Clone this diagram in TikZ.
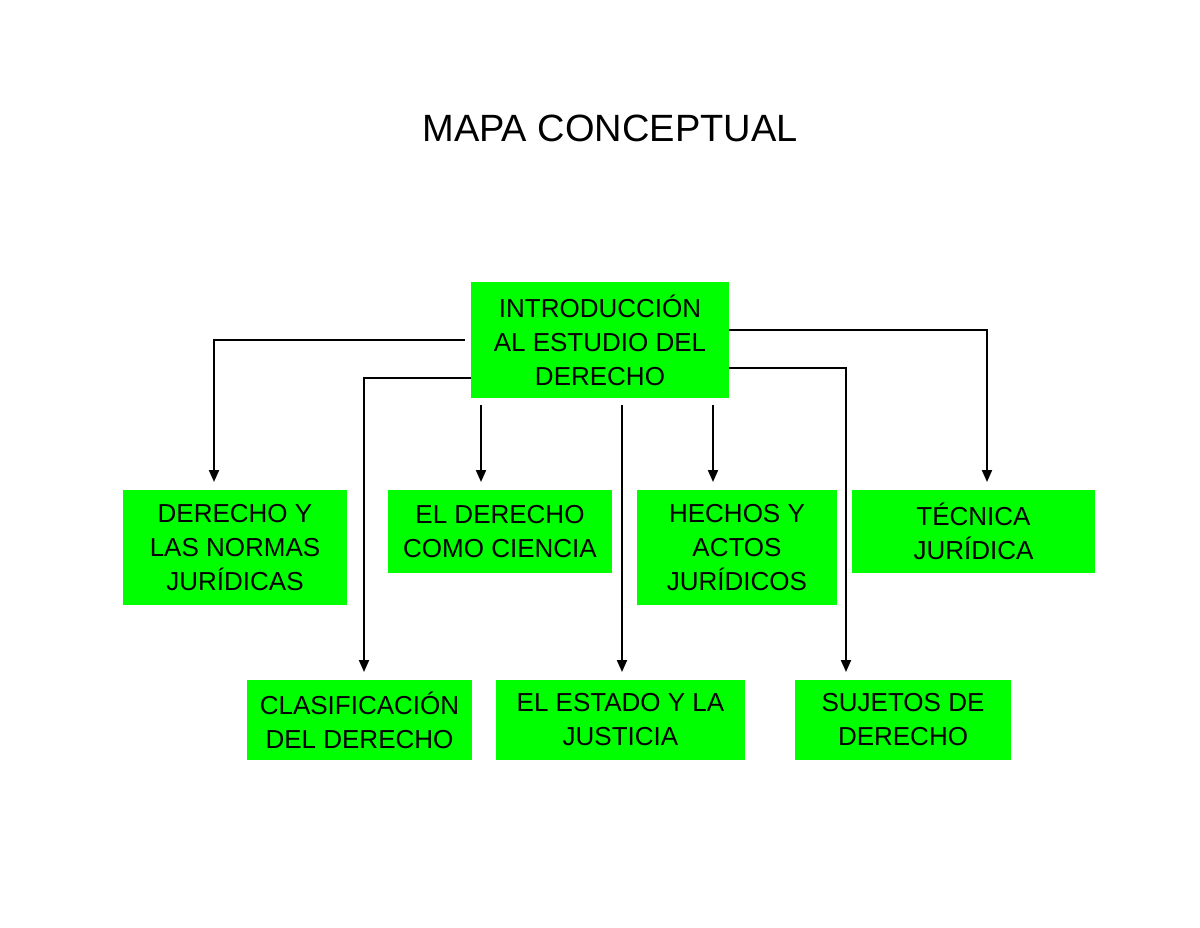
\documentclass[tikz,border=0pt]{standalone}
\usepackage{fontspec}
\setmainfont{Liberation Sans}
\usetikzlibrary{arrows.meta}
\begin{document}
\begin{tikzpicture}[x=1pt,y=-1pt,
  box/.style={fill=green!100, draw=none, inner sep=0pt, align=center, font=\fontsize{26}{34}\selectfont},
  arr/.style={line width=2pt, -{Triangle[length=12pt,width=10pt]}, shorten >=8pt}]
\useasboundingbox (0,0) rectangle (1200,927);
\definecolor{g}{RGB}{0,255,0}
\tikzset{box/.append style={fill=g}}
\node[font=\fontsize{38}{40}\selectfont] (title) at (610,128) {MAPA CONCEPTUAL};
\node[box, minimum width=258, minimum height=116] (main) at (600,340) {INTRODUCCIÓN\\AL ESTUDIO DEL\\DERECHO};
\node[box, minimum width=224, minimum height=115] (a) at (235,547.5) {DERECHO Y\\LAS NORMAS\\JURÍDICAS};
\node[box, minimum width=224, minimum height=83] (b) at (500,531.5) {EL DERECHO\\COMO CIENCIA};
\node[box, minimum width=200, minimum height=115] (c) at (737,547.5) {HECHOS Y\\ACTOS\\JURÍDICOS};
\node[box, minimum width=243, minimum height=83] (d) at (973.5,531.5) {TÉCNICA\\JURÍDICA};
\node[box, minimum width=225, minimum height=80] (e) at (359.5,720) {CLASIFICACIÓN\\DEL DERECHO};
\node[box, minimum width=249, minimum height=80] (f) at (620.5,720) {EL ESTADO Y LA\\JUSTICIA};
\node[box, minimum width=216, minimum height=80] (h) at (903,720) {SUJETOS DE\\DERECHO};
\coordinate (s1) at (465,340);
\coordinate (s2) at (471,378);
\coordinate (s3) at (481,405);
\coordinate (s4) at (622,405);
\coordinate (s5) at (713,405);
\coordinate (s6) at (729,330);
\coordinate (s7) at (729,368);
\draw[arr] (s1) -| (214,490) coordinate (t1);
\draw[arr] (s2) -| (364,680);
\draw[arr] (s3) -- (481,490);
\draw[arr] (s4) -- (622,680);
\draw[arr] (s5) -- (713,490);
\draw[arr] (s6) -| (987,490);
\draw[arr] (s7) -| (846,680);
\end{tikzpicture}
\end{document}
